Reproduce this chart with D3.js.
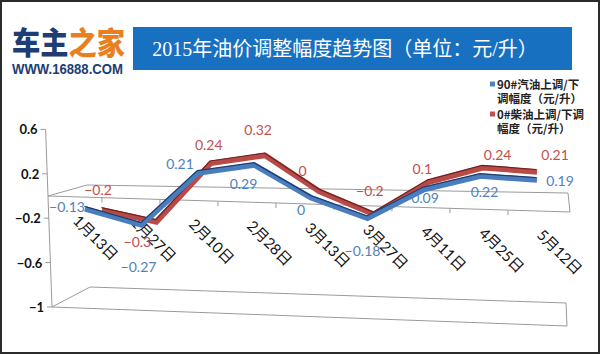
<!DOCTYPE html>
<html>
<head>
<meta charset="utf-8">
<script src="https://cdn.jsdelivr.net/npm/d3@7"></script>
<style>
  html, body { margin: 0; padding: 0; background: #fff; }
  svg { display: block; }
</style>
</head>
<body>
<div id="chart"></div>
<script>
// data
const categories = ["1月13日", "1月27日", "2月10日", "2月28日", "3月13日", "3月27日", "4月11日", "4月25日", "5月12日"];
const gasoline = [-0.13, -0.27, 0.21, 0.29, 0, -0.18, 0.09, 0.22, 0.19];
const diesel = [-0.2, -0.3, 0.24, 0.32, 0, -0.2, 0.1, 0.24, 0.21];
const yTicks = [0.6, 0.2, -0.2, -0.6, -1];
const legendGas = ["90#汽油上调/下", "调幅度（元/升）"];
const legendDiesel = ["0#柴油上调/下调", "幅度（元/升）"];
const title = "2015年油价调整幅度趋势图（单位：元/升）";

// label nudges (layout only), [dx, dy] from each point
const gasNudge = [[-18, -2], [-3, 41], [-18, -10], [-11, 18], [-10, 12], [-5, 32], [1, 8], [4, 16], [23, 0]];
const dieselNudge = [[-4, -21], [-19, 20], [-2, -19], [-7, -26], [-17, -21], [-4, -24], [-6, -14], [15, -13], [18, -17]];

const W = 600, H = 354;
const svg = d3.select("#chart").append("svg")
  .attr("width", W)
  .attr("height", H);

svg.append("rect")
  .attr("x", 1).attr("y", 1)
  .attr("width", W - 2).attr("height", H - 2)
  .attr("fill", "#fff")
  .attr("stroke", "#2b2b2b")
  .attr("stroke-width", 2);

// logo
const logo = svg.append("g");
logo.append("text")
  .attr("x", 12).attr("y", 54)
  .attr("font-family", "Noto Sans CJK SC")
  .attr("font-weight", 900)
  .attr("font-size", 31)
  .attr("textLength", 113)
  .attr("lengthAdjust", "spacingAndGlyphs")
  .call(t => {
    t.append("tspan").attr("fill", "#1d3d74").text("车主");
    t.append("tspan").attr("fill", "#e9801f").text("之家");
  });
logo.append("text")
  .attr("x", 12).attr("y", 74)
  .attr("font-family", "Liberation Sans Narrow, Liberation Sans, sans-serif")
  .attr("font-weight", 700)
  .attr("font-size", 14)
  .attr("textLength", 111)
  .attr("lengthAdjust", "spacingAndGlyphs")
  .attr("fill", "#1d3d74")
  .text("WWW.16888.COM");

// title box
svg.append("rect")
  .attr("x", 133).attr("y", 27)
  .attr("width", 439).attr("height", 43)
  .attr("fill", "#1770c0");
svg.append("text")
  .attr("x", 345).attr("y", 49)
  .attr("text-anchor", "middle")
  .attr("dominant-baseline", "central")
  .attr("font-family", "Liberation Serif, Noto Sans CJK SC")
  .attr("font-size", 20)
  .attr("fill", "#fff")
  .text(title);

// 3D frame projection: u = category units [0, 9], v = value, w = depth [0, 1]
const frontZero = d3.scaleLinear().domain([0, 9]).range([[48, 196], [570, 212]]);
const frontMin = d3.scaleLinear().domain([0, 9]).range([[52, 307], [567, 326]]);
const backZero = d3.scaleLinear().domain([0, 9]).range([[87, 185], [568, 193]]);
const backMin = d3.scaleLinear().domain([0, 9]).range([[90, 287], [566, 303]]);

function proj(u, v, w) {
  const z = d3.interpolate(frontZero(u), backZero(u))(w);
  const m = d3.interpolate(frontMin(u), backMin(u))(w);
  return [z[0] + (z[0] - m[0]) * v, z[1] + (z[1] - m[1]) * v];
}

const frame = svg.append("g")
  .attr("fill", "none")
  .attr("stroke", "#9a9a9a")
  .attr("stroke-width", 1);

function plane(v) {
  return [proj(0, v, 0), proj(0, v, 1), proj(9, v, 1), proj(9, v, 0)];
}
frame.append("path").attr("d", d3.line()(plane(-1)) + "Z");
frame.append("path").attr("d", d3.line()(plane(0)) + "Z");

// category ticks on the front edge of the zero plane
const tickU = d3.scaleLinear().domain([0, 9]).range([-0.07, 8.93]);
frame.selectAll(".xtick")
  .data(d3.range(1, 9))
  .enter().append("line")
  .attr("x1", k => proj(tickU(k), 0, 0)[0])
  .attr("x2", k => proj(tickU(k), 0, 0)[0])
  .attr("y1", k => proj(tickU(k), 0, 0)[1])
  .attr("y2", k => proj(tickU(k), 0, 0)[1] + 5);

// value axis
const yMax = d3.max(yTicks), yMin = d3.min(yTicks);
frame.append("line")
  .attr("x1", proj(0, yMax, 0)[0]).attr("y1", proj(0, yMax, 0)[1])
  .attr("x2", proj(0, yMin, 0)[0]).attr("y2", proj(0, yMin, 0)[1]);
frame.selectAll(".ytick")
  .data(yTicks)
  .enter().append("line")
  .attr("x1", d => proj(0, d, 0)[0] - 5)
  .attr("x2", d => proj(0, d, 0)[0])
  .attr("y1", d => proj(0, d, 0)[1])
  .attr("y2", d => proj(0, d, 0)[1]);

svg.selectAll(".ylabel")
  .data(yTicks)
  .enter().append("text")
  .attr("x", d => proj(0, d, 0)[0] - 8)
  .attr("y", d => proj(0, d, 0)[1])
  .attr("text-anchor", "end")
  .attr("dominant-baseline", "central")
  .attr("font-family", "Lato, sans-serif")
  .attr("font-weight", 700)
  .attr("font-size", 13)
  .attr("fill", "#111")
  .text(d => d3.format("")(d));

// category labels
svg.selectAll(".xlabel")
  .data(categories)
  .enter().append("text")
  .attr("transform", (d, i) => {
    const p = proj(tickU(i + 0.5), 0, 0);
    return "translate(" + (p[0] - 1) + "," + (p[1] + 25) + ")rotate(45)";
  })
  .attr("font-family", "Lato, Noto Sans CJK SC")
  .attr("font-size", 15)
  .attr("fill", "#111")
  .text(d => d);

// series ribbons
const series = [
  { values: diesel, xr: [102, 537], zr: [188, 195], color: "#b94a47", dark: "#6e2220", label: "#c0504d", nudge: dieselNudge },
  { values: gasoline, xr: [85, 537], zr: [194.5, 201], color: "#4a7dbd", dark: "#1f3d6b", label: "#4f81bd", nudge: gasNudge }
];
const valuePx = d3.scaleLinear().domain([0, 1]).range([0, 110]);

series.forEach(s => {
  const x = d3.scalePoint().domain(categories).range(s.xr);
  const zero = d3.scaleLinear().domain([0, categories.length - 1]).range(s.zr);
  const pts = s.values.map((v, i) => [x(categories[i]), zero(i) - valuePx(v)]);
  const g = svg.append("g");
  g.append("path")
    .attr("d", d3.line()(pts))
    .attr("fill", "none")
    .attr("stroke", s.color)
    .attr("stroke-width", 5.5)
    .attr("stroke-linejoin", "miter");
  g.append("path")
    .attr("d", d3.line()(pts.map(p => [p[0] - 0.6, p[1] - 2.4])))
    .attr("fill", "none")
    .attr("stroke", s.dark)
    .attr("stroke-width", 1.2);
  s.pts = pts;
});

series.forEach(s => {
  svg.selectAll(null)
    .data(s.values)
    .enter().append("text")
    .attr("x", (d, i) => s.pts[i][0] + s.nudge[i][0])
    .attr("y", (d, i) => s.pts[i][1] + s.nudge[i][1])
    .attr("text-anchor", "middle")
    .attr("dominant-baseline", "central")
    .attr("font-family", "Lato, sans-serif")
    .attr("font-size", 14)
    .attr("fill", s.label)
    .text(d => d3.format("")(d));
});

// legend
const legend = svg.append("g")
  .attr("font-family", "Noto Sans CJK SC")
  .attr("font-weight", 700)
  .attr("font-size", 11.5)
  .attr("fill", "#222");
[[legendGas, "#4f81bd", 84], [legendDiesel, "#c0504d", 114]].forEach(([lines, c, y]) => {
  legend.append("rect")
    .attr("x", 490).attr("y", y - 2.5)
    .attr("width", 5).attr("height", 5)
    .attr("fill", c);
  lines.forEach((t, k) => {
    legend.append("text")
      .attr("x", 497).attr("y", y + k * 14)
      .attr("dominant-baseline", "central")
      .text(t);
  });
});
</script>
</body>
</html>
